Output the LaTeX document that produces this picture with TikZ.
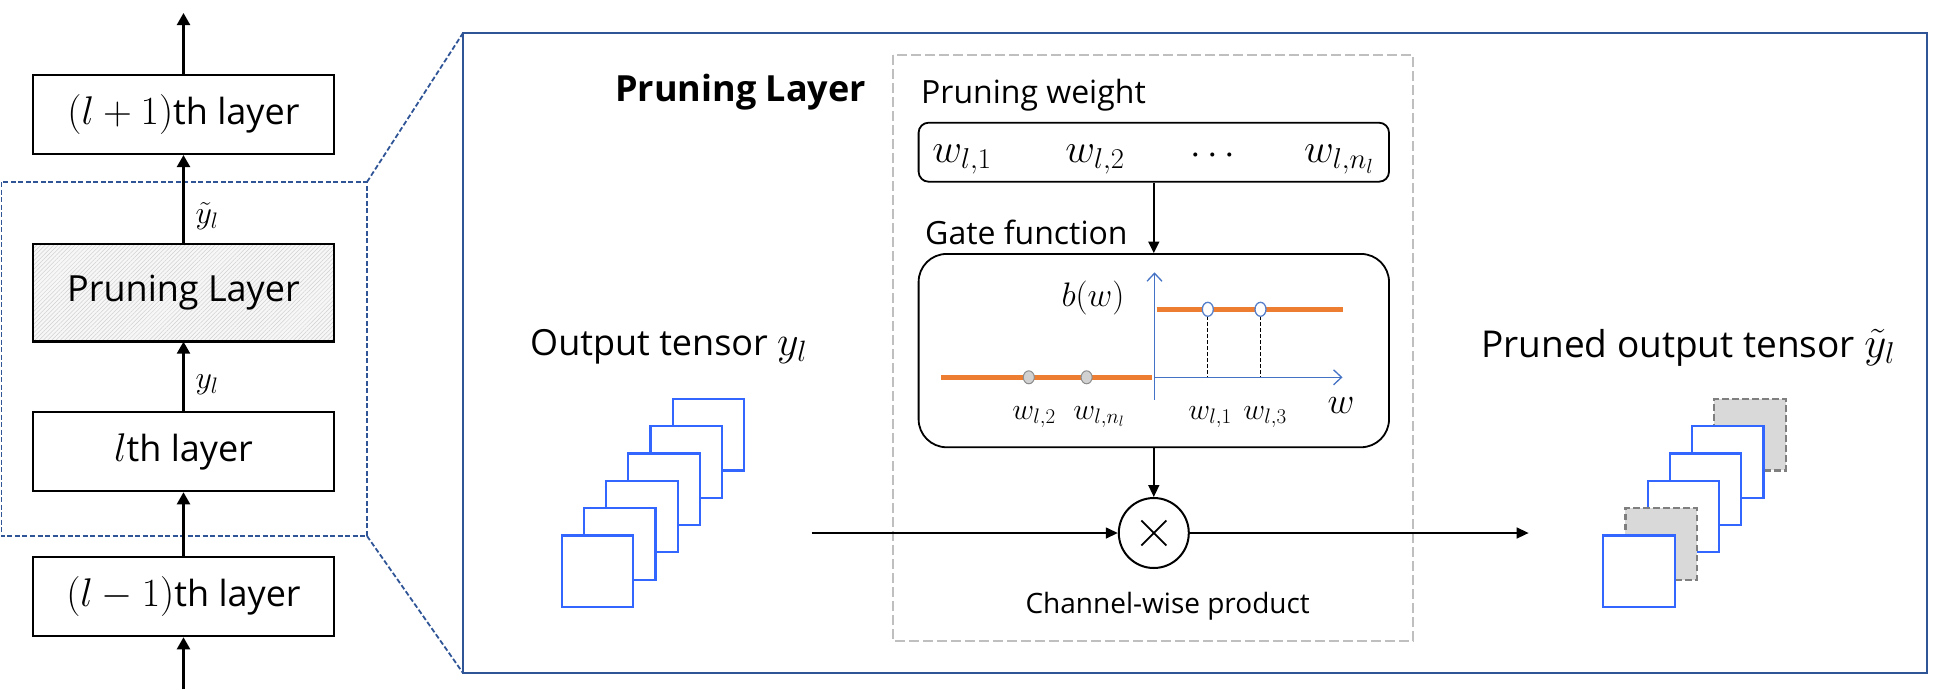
\RequirePackage{fix-cm}
\documentclass[tikz,border=0pt]{standalone}
\usepackage{fontspec}
\setmainfont{Open Sans}
\usetikzlibrary{arrows.meta,patterns.meta}
\definecolor{dblue}{HTML}{2F5597}
\definecolor{tblue}{HTML}{3366FF}
\definecolor{ablue}{HTML}{4472C4}
\definecolor{orng}{HTML}{ED7D31}
\definecolor{dgray}{HTML}{BFBFBF}
\definecolor{pfill}{HTML}{D9D9D9}
\definecolor{pline}{HTML}{7F7F7F}
\newcommand{\fsz}[1]{\fontsize{#1}{#1}\selectfont}
\newcommand{\mth}[2]{{\fsz{#1}$#2$}}
\begin{document}
\begin{tikzpicture}[x=1pt,y=-1pt,
  layerbox/.style={draw, line width=2.5pt, minimum width=301pt, minimum height=79pt, inner sep=0pt, font=\fsz{36}},
  larrow/.style={line width=2.3pt, -{Triangle[length=12pt,width=13pt]}},
  farrow/.style={line width=1.5pt, -{Triangle[length=12pt,width=11pt]}},
  tsq/.style={draw=tblue, line width=2.2pt, fill=white, minimum size=71.5pt, inner sep=0pt},
  psq/.style={draw=pline, dash pattern=on 6.5pt off 3.5pt, line width=2.3pt, fill=pfill, minimum size=71.5pt, inner sep=0pt},
  axisln/.style={ablue, line width=1.3pt, -{Straight Barb[length=8pt,width=15pt]}},
  txt/.style={inner sep=0pt},
  gdot/.style={fill=black!18, draw=black!45, line width=1pt},
  bdot/.style={fill=white, draw=ablue!90, line width=1.3pt},
  vdash/.style={line width=1pt, dash pattern=on 4pt off 2pt}
]
\useasboundingbox (0,0) rectangle (1936,689);

% ---------- left column ----------
\draw[dblue, line width=1.8pt, dash pattern=on 5pt off 2.5pt] (1.5,182) rectangle (367,536);
\draw[dblue, line width=1.8pt, dash pattern=on 5pt off 2.5pt] (367,182) -- (463,33);
\draw[dblue, line width=1.8pt, dash pattern=on 5pt off 2.5pt] (367,536) -- (463,673);

\node[layerbox] (lp1) at (183.5,114.3) {\mth{40}{(l+1)}th layer};
\node[layerbox, minimum height=97.6pt, preaction={fill=black!3},
      pattern={Lines[angle=45,distance=3pt,line width=0.5pt]}, pattern color=black!18]
      (prl) at (183.5,292.6) {};
\node[txt, font=\fsz{36}] (prlt) at (prl.center) {Pruning Layer};
\node[layerbox] (lth) at (183.5,451.5) {\mth{40}{l}th layer};
\node[layerbox] (lm1) at (183.5,596.5) {\mth{40}{(l-1)}th layer};

\coordinate (bot) at (183.5,689);
\coordinate (top) at (183.5,13);
\draw[larrow] (bot) -- (lm1);
\draw[larrow] (lm1) -- (lth);
\draw[larrow] (lth) -- (prl);
\draw[larrow] (prl) -- (lp1);
\draw[larrow] (lp1) -- (top);
\node[font=\fsz{32}] (ytl) at (207,216) {$\tilde{y}_l$};
\node[font=\fsz{32}] (yl) at (207,385) {$y_l$};

% ---------- big panel ----------
\draw[dblue, line width=2pt] (463,33) rectangle (1927,673);
\draw[dgray, line width=2.5pt, dash pattern=on 10pt off 4pt] (893,55) rectangle (1413,641);

\node[txt, anchor=base west, font=\bfseries\fsz{36}] (plt) at (615,101.7) {Pruning Layer};
\node[txt, anchor=base west, font=\fsz{32}] (pwt) at (921,103.3) {Pruning weight};
\node[txt, anchor=base west, font=\fsz{32}] (gft) at (925,244) {Gate function};

% pruning weight box
\node[draw, rounded corners=10pt, line width=1.8pt, minimum width=470.4pt, minimum height=59pt] (pw) at (1153.8,152.2) {};
\node[txt, anchor=base, font=\fsz{41}] (w1) at (962,162.5) {$w_{l,1}$};
\node[txt, anchor=base, font=\fsz{41}] (w2) at (1095,162.5) {$w_{l,2}$};
\node[txt, anchor=base, font=\fsz{38}] (wd) at (1213,164) {$\cdots$};
\node[txt, anchor=base, font=\fsz{41}] (wn) at (1339,162.5) {$w_{l,n_l}$};

% gate function box
\node[draw, rounded corners=28pt, line width=1.8pt, minimum width=470.4pt, minimum height=193.3pt] (gf) at (1153.8,350.6) {};
\draw[line width=1.8pt, -{Triangle[length=11.5pt,width=11pt]}] (pw) -- (gf);

% graph
\draw[axisln] (1154.5,400) -- (1154.5,272.3);
\draw[axisln] (1154.5,377.3) -- (1342.5,377.3);
\draw[orng, line width=5pt] (941.3,377.3) -- (1152,377.3);
\draw[orng, line width=5pt] (1156.5,309.3) -- (1342.5,309.3);
\draw[vdash] (1207.8,316) -- (1207.8,377.3);
\draw[vdash] (1260.5,316) -- (1260.5,377.3);
\draw[gdot] (1028.8,377.3) ellipse (5.5 and 6.5);
\draw[gdot] (1086.6,377.3) ellipse (5.5 and 6.5);
\draw[bdot] (1207.8,309.3) ellipse (5.5 and 7);
\draw[bdot] (1260.5,309.3) ellipse (5.5 and 7);
\node[txt, anchor=base, font=\fsz{34}] (bw) at (1093,306.7) {$b(w)$};
\node[txt, anchor=base, font=\fsz{30}] (lw2) at (1034,419) {$w_{l,2}$};
\node[txt, anchor=base, font=\fsz{30}] (lwn) at (1099,419) {$w_{l,n_l}$};
\node[txt, anchor=base, font=\fsz{30}] (lw1) at (1210,419) {$w_{l,1}$};
\node[txt, anchor=base, font=\fsz{30}] (lw3) at (1265,419) {$w_{l,3}$};
\node[txt, anchor=base, font=\fsz{37}] (lw) at (1341,413.3) {$w$};

% product
\node[circle, draw, line width=2pt, minimum size=70pt, inner sep=0pt] (mul) at (1153.8,533) {};
\draw[line width=1.8pt] ([shift={(-12.5,-12.5)}]mul.center) -- ([shift={(12.5,12.5)}]mul.center);
\draw[line width=1.8pt] ([shift={(-12.5,12.5)}]mul.center) -- ([shift={(12.5,-12.5)}]mul.center);
\draw[farrow] (gf) -- (mul);
\coordinate (in) at (811.7,533);
\coordinate (out) at (1528.6,533);
\draw[farrow] (in) -- (mul);
\draw[farrow] (mul) -- (out);
\node[txt, anchor=base east, font=\fsz{28}] (cwp) at (1310,613) {Channel-wise product};

% output tensor
\node[txt, anchor=base west, font=\fsz{36}] (otl) at (530,355) {Output tensor \mth{42}{y_l}};
\foreach \i in {5,4,3,2,1,0}
  \node[tsq] (t\i) at ({597.5+22.2*\i},{571.2-27.3*\i}) {};

% pruned output tensor
\node[txt, anchor=base west, font=\fsz{37}] (ptl) at (1481,357) {Pruned output tensor \mth{43}{\tilde{y}_l}};
\node[psq] (p5) at ({1639+22.2*5},{571.2-27.3*5}) {};
\node[tsq] (p4) at ({1639+22.2*4},{571.2-27.3*4}) {};
\node[tsq] (p3) at ({1639+22.2*3},{571.2-27.3*3}) {};
\node[tsq] (p2) at ({1639+22.2*2},{571.2-27.3*2}) {};
\node[psq] (p1) at ({1639+22.2*1},{571.2-27.3*1}) {};
\node[tsq] (p0) at (1639,571.2) {};
\end{tikzpicture}
\end{document}
